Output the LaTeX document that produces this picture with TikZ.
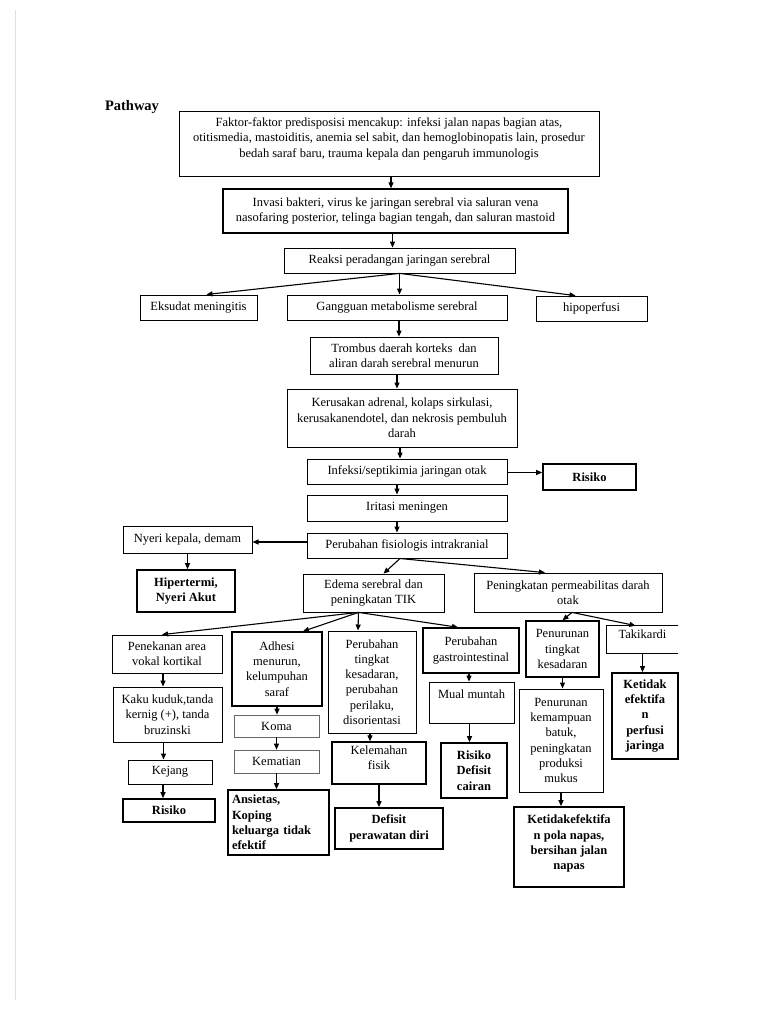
\documentclass[tikz,border=0pt]{standalone}
\usepackage{fontspec}
\setmainfont{Liberation Serif}
\usetikzlibrary{arrows.meta}
\tikzset{
  box/.style={draw, line width=0.8pt, align=center, inner sep=1pt, anchor=center,
    font=\fontsize{12.5}{15.3}\selectfont},
  thick box/.style={line width=1.4pt},
  mid box/.style={line width=1.0pt},
  bold box/.style={line width=1.7pt, font=\fontsize{12.5}{15.3}\selectfont\bfseries},
  light box/.style={draw=black!60, line width=0.7pt},
  arr/.style={line width=1.1pt, -{Triangle[length=6pt,width=5pt]}},
}
\newcommand\bx[7]{\node[box,#6,minimum width=#4pt-#2pt,minimum height=#5pt-#3pt] (#1) at ({(#2+#4)/2},{(#3+#5)/2}) {#7};}
\begin{document}
\begin{tikzpicture}[x=1pt,y=-1pt]
\fill[white] (0,0) rectangle (768,1024);
\useasboundingbox (0,0) rectangle (768,1024);
\draw[black!12, line width=0.8pt] (15,10) -- (15,1000);

\node[font=\fontsize{14.5}{16}\selectfont\bfseries] (title) at (132,107) {Pathway};

\bx{b1}{179}{111}{599}{176}{}{Faktor-faktor predisposisi mencakup: infeksi jalan napas bagian atas,\\otitismedia, mastoiditis, anemia sel sabit, dan hemoglobinopatis lain, prosedur\\bedah saraf baru, trauma kepala dan pengaruh immunologis\\[-3pt]\mbox{}}
\bx{b2}{223}{189}{568}{233}{thick box}{Invasi bakteri, virus ke jaringan serebral via saluran vena\\nasofaring posterior, telinga bagian tengah, dan saluran mastoid}
\bx{reaksi}{284}{248}{515}{273}{}{Reaksi peradangan jaringan serebral}
\bx{eks}{140}{295}{257}{320}{mid box}{Eksudat meningitis}
\bx{gang}{287}{295}{507}{320}{mid box}{Gangguan metabolisme serebral}
\bx{hipo}{536}{296}{647}{321}{}{hipoperfusi}
\bx{trom}{310}{337}{498}{374}{}{Trombus daerah korteks\ \ dan\\aliran darah serebral menurun}
\bx{keru}{287}{389}{517}{447}{mid box}{Kerusakan adrenal, kolaps sirkulasi,\\kerusakanendotel, dan nekrosis pembuluh\\darah}
\bx{infe}{307}{459}{507}{484}{}{Infeksi/septikimia jaringan otak}
\bx{risk1}{543}{464}{636}{490}{bold box}{Risiko}
\bx{irit}{307}{495}{507}{521}{mid box}{Iritasi meningen}
\bx{pfis}{307}{533}{507}{558}{mid box}{Perubahan fisiologis intrakranial}
\bx{nyeri}{123}{526}{252}{553}{mid box}{Nyeri kepala, demam}
\bx{hiper}{137}{570}{235}{612}{bold box}{Hipertermi,\\Nyeri Akut}
\bx{edema}{303}{574}{444}{612}{}{Edema serebral dan\\peningkatan TIK}
\bx{ping}{474}{573}{662}{612}{}{Peningkatan permeabilitas darah\\otak}

\bx{pene}{112}{635}{222}{673}{}{Penekanan area\\vokal kortikal}
\bx{kaku}{113}{687}{222}{742}{}{Kaku kuduk,tanda\\kernig (+), tanda\\bruzinski}
\bx{kej}{128}{760}{212}{784}{mid box}{Kejang}
\bx{risk2}{123}{799}{215}{822}{bold box}{Risiko}
\bx{adh}{232}{632}{322}{706}{thick box}{Adhesi\\menurun,\\kelumpuhan\\saraf}
\bx{koma}{234}{715}{319}{737}{light box}{Koma}
\bx{kemat}{234}{750}{319}{773}{light box}{Kematian}
\node[box,bold box,align=left,text width=93pt,minimum width=101pt,minimum height=65pt] (ansi) at (278.5,822.5) {Ansietas,\\Koping\\keluarga tidak\\efektif};
\bx{ptk}{328}{631}{416}{733}{mid box}{Perubahan\\tingkat\\kesadaran,\\perubahan\\perilaku,\\disorientasi}
\bx{kele}{332}{742}{426}{784}{thick box}{Kelemahan\\fisik\\[-4pt]\mbox{}}
\bx{defp}{335}{808}{443}{849}{bold box}{Defisit\\perawatan diri}
\bx{gast}{423}{628}{519}{673}{thick box}{Perubahan\\gastrointestinal}
\bx{mual}{429}{682}{514}{723}{}{Mual muntah\\[2pt]\mbox{}}
\bx{rdef}{441}{743}{507}{798}{bold box}{Risiko\\Defisit\\cairan}
\bx{pnt}{526}{621}{599}{677}{thick box}{Penurunan\\tingkat\\kesadaran}
\bx{pnk}{519}{689}{603}{792}{mid box}{Penurunan\\kemampuan\\batuk,\\peningkatan\\produksi\\mukus}
\bx{ktp}{514}{807}{624}{887}{bold box}{Ketidakefektifa\\n pola napas,\\bersihan jalan\\napas\\[-6pt]\mbox{}}
\node[box,draw=none,minimum width=71pt,minimum height=27pt] (taki) at (642.5,639.5) {Takikardi\\[-5pt]\mbox{}};
\draw[line width=0.8pt] (taki.north east) -- (taki.north west) -- (taki.south west) -- (taki.south east);
\bx{ktpj}{612}{673}{678}{759}{bold box}{Ketidak\\efektifa\\n\\perfusi\\jaringa}

% connectors
\draw[arr] ([xshift=2pt]b1.south) -- ([xshift=2pt]b1.south |- b2.north);
\draw[arr] ([xshift=-3pt]b2.south) -- ([xshift=-3pt]b2.south |- reaksi.north);
\draw[arr] (reaksi.south) -- ([xshift=8pt]eks.north);
\draw[arr] (reaksi.south) -- (reaksi.south |- gang.north);
\draw[arr] (reaksi.south) -- ([xshift=-16pt]hipo.north);
\draw[arr] ([xshift=2pt]gang.south) -- ([xshift=2pt]gang.south |- trom.north);
\draw[arr] ([xshift=-7pt]trom.south) -- ([xshift=-7pt]trom.south |- keru.north);
\draw[arr] ([xshift=-2pt]keru.south) -- ([xshift=-2pt]keru.south |- infe.north);
\draw[arr] ([yshift=-1pt]infe.east) -- ([yshift=-1pt]infe.east -| risk1.west);
\draw[arr] ([xshift=-10pt]infe.south) -- ([xshift=-10pt]infe.south |- irit.north);
\draw[arr] ([xshift=-10pt]irit.south) -- ([xshift=-10pt]irit.south |- pfis.north);
\draw[arr] ([yshift=3.5pt]pfis.west) -- ([yshift=3.5pt]pfis.west -| nyeri.east);
\draw[arr] (nyeri.south) -- (nyeri.south |- hiper.north);
\draw[arr] ([xshift=-7pt]pfis.south) -- ([xshift=10pt]edema.north);
\draw[arr] ([xshift=-7pt]pfis.south) -- ([xshift=-23pt]ping.north);

\draw[arr] ([xshift=-15pt]edema.south) -- ([xshift=-5pt]pene.north);
\draw[arr] ([xshift=-15pt]edema.south) -- ([xshift=26pt]adh.north);
\draw[arr] ([xshift=-15pt]edema.south) -- ([xshift=-14pt]ptk.north);
\draw[arr] ([xshift=-15pt]edema.south) -- ([xshift=-13pt]gast.north);
\draw[arr] ([xshift=4pt]ping.south) -- (pnt.north);
\draw[arr] ([xshift=4pt]ping.south) -- ([xshift=-7pt]taki.north);

\draw[arr] ([xshift=-4pt]pene.south) -- ([xshift=-4pt]pene.south |- kaku.north);
\draw[arr] ([xshift=-4pt]kaku.south) -- ([xshift=-4pt]kaku.south |- kej.north);
\draw[arr] ([xshift=-7pt]kej.south) -- ([xshift=-7pt]kej.south |- risk2.north);
\draw[arr] (adh.south) -- (adh.south |- koma.north);
\draw[arr] (koma.south) -- (koma.south |- kemat.north);
\draw[arr] (kemat.south) -- (kemat.south |- ansi.north);
\draw[arr] ([xshift=-2pt]ptk.south) -- ([xshift=-2pt]ptk.south |- kele.north);
\draw[arr] (kele.south) -- (kele.south |- defp.north);
\draw[arr] ([xshift=-2pt]gast.south) -- ([xshift=-2pt]gast.south |- mual.north);
\draw[arr] ([xshift=-2pt]mual.south) -- ([xshift=-2pt]mual.south |- rdef.north);
\draw[arr] (pnt.south) -- (pnt.south |- pnk.north);
\draw[arr] (pnk.south) -- (pnk.south |- ktp.north);
\draw[arr] (taki.south) -- (taki.south |- ktpj.north);
\end{tikzpicture}
\end{document}
